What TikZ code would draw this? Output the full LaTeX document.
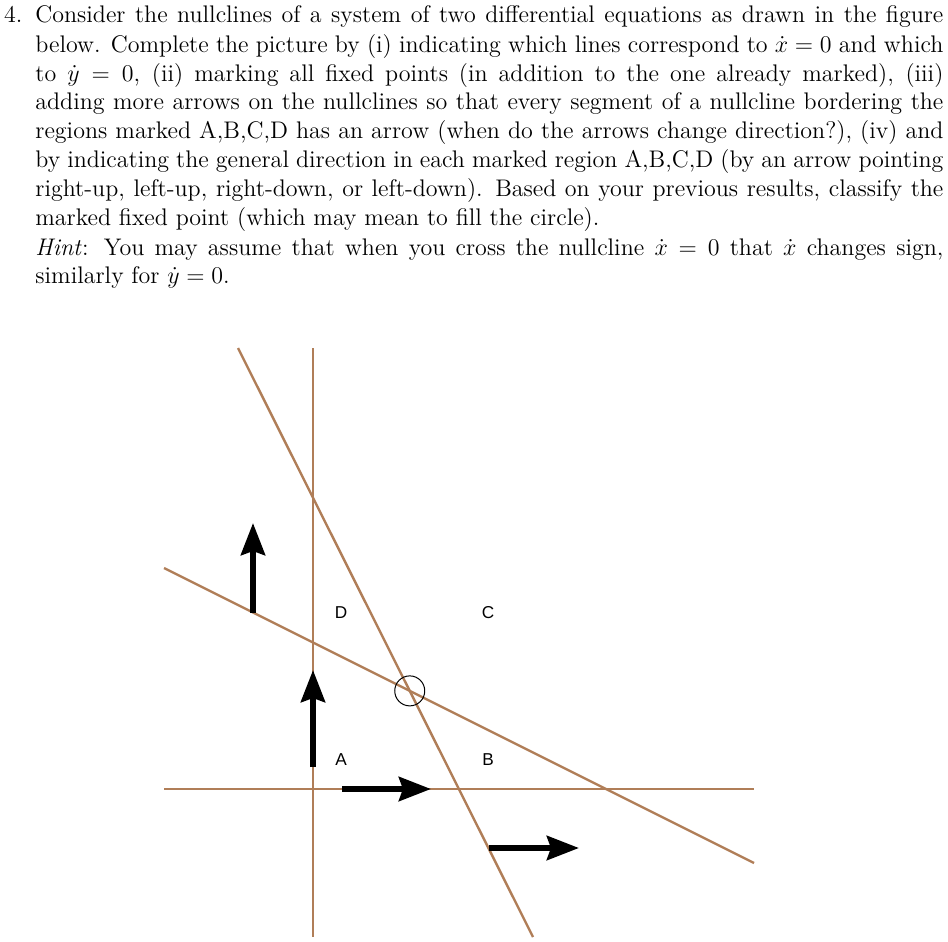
\documentclass[tikz,border=0pt]{standalone}
\usepackage{fontspec}
\usepackage{amsmath}
\usepackage{tikz}
\usetikzlibrary{arrows.meta}
\usetikzlibrary{positioning}
\newfontfamily\regionfont{Liberation Sans}
\definecolor{clinebrown}{RGB}{176,126,88}
\tikzset{>={Stealth[length=16pt,width=12pt,inset=2pt]}}

\begin{document}
\begin{tikzpicture}[
        x=0.5pt, y=-0.5pt,
        nullcline/.style={clinebrown,line width=1.2pt},
        flowarrow/.style={black,line width=3pt,->},
        region/.style={font=\regionfont\fontsize{8.6}{10}\selectfont,inner sep=0pt},
        fixedpt/.style={circle,draw=black,line width=0.5pt,minimum size=15pt,inner sep=0pt}
    ]
    \useasboundingbox (0,0) rectangle (948,942);

    \node[anchor=base west,inner sep=0pt,text width=454pt,align=justify,
          font=\fontsize{12}{14.5}\selectfont] (task) at (35,23) {%
        \leavevmode\llap{4.\hspace{6.5pt}}Consider the nullclines of a system of two differential equations as drawn in the figure\linebreak
        below. Complete the picture by (i) indicating which lines correspond to $\dot{x}=0$ and which\linebreak
        to $\dot{y}=0$, (ii) marking all fixed points (in addition to the one already marked), (iii)\linebreak
        adding more arrows on the nullclines so that every segment of a nullcline bordering the\linebreak
        regions marked A,B,C,D has an arrow (when do the arrows change direction?), (iv) and\linebreak
        by indicating the general direction in each marked region A,B,C,D (by an arrow pointing\linebreak
        right-up, left-up, right-down, or left-down). Based on your previous results, classify the\linebreak
        marked fixed point (which may mean to fill the circle).\par
        \emph{Hint}: You may assume that when you cross the nullcline $\dot{x}=0$ that $\dot{x}$ changes sign,\linebreak
        similarly for $\dot{y}=0$.};

    \coordinate (vtop) at (313,348);
    \coordinate (vbot) at (313,937);
    \coordinate (stop) at (238,348);
    \coordinate (sbot) at (533,937);
    \coordinate (gleft) at (164,568);
    \coordinate (gright) at (754,863);
    \coordinate (hleft) at (164,789);
    \coordinate (hright) at (754,789);

    \draw[nullcline] (vtop) -- (vbot);
    \draw[nullcline] (stop) -- (sbot);
    \draw[nullcline] (gleft) -- (gright);
    \draw[nullcline] (hleft) -- (hright);

    \node[fixedpt] (fp) at (intersection of stop--sbot and gleft--gright) {};

    \coordinate (a1t) at (253,613);
    \coordinate (a1h) at (253,523);
    \coordinate (a2t) at (313,767);
    \coordinate (a2h) at (313,670);
    \coordinate (a3t) at (342,789);
    \coordinate (a3h) at (431,789);
    \coordinate (a4t) at (489,848);
    \coordinate (a4h) at (579,848);

    \draw[flowarrow] (a1t) -- (a1h);
    \draw[flowarrow] (a2t) -- (a2h);
    \draw[flowarrow] (a3t) -- (a3h);
    \draw[flowarrow] (a4t) -- (a4h);

    \node[region] (rD) at (341,613) {D};
    \node[region] (rC) at (488,613) {C};
    \node[region] (rA) at (341,760) {A};
    \node[region] (rB) at (488,760) {B};
\end{tikzpicture}
\end{document}
